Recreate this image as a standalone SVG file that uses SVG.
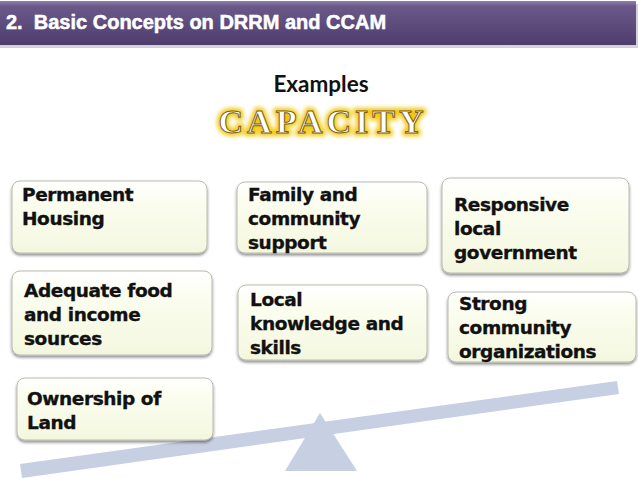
<svg xmlns="http://www.w3.org/2000/svg" width="638" height="478" viewBox="0 0 638 478">
<defs>
<linearGradient id="hdr" x1="0" y1="0" x2="0" y2="1">
<stop offset="0" stop-color="#8f7fae"/>
<stop offset="0.12" stop-color="#6a5889"/>
<stop offset="1" stop-color="#4f3e6c"/>
</linearGradient>
<linearGradient id="box" x1="0" y1="0" x2="0" y2="1">
<stop offset="0" stop-color="#ffffff"/>
<stop offset="0.3" stop-color="#fbfdef"/>
<stop offset="1" stop-color="#f4f7df"/>
</linearGradient>
<filter id="sh" x="-10%" y="-10%" width="120%" height="130%">
<feGaussianBlur in="SourceAlpha" stdDeviation="1.5"/>
<feOffset dx="0" dy="2" result="b"/>
<feComponentTransfer><feFuncA type="linear" slope="0.45"/></feComponentTransfer>
<feMerge><feMergeNode/><feMergeNode in="SourceGraphic"/></feMerge>
</filter>
<filter id="glow" x="-10%" y="-30%" width="120%" height="160%">
<feGaussianBlur stdDeviation="2"/>
</filter>
</defs>
<style>
.bx{fill:url(#box);stroke:#b9bcae;stroke-width:1;filter:url(#sh)}
.t{font-family:"DejaVu Sans",Verdana,sans-serif;font-weight:bold;font-size:18.5px;letter-spacing:-0.4px;fill:#111;stroke:#111;stroke-width:0.35}
.cap{font-family:"Liberation Serif","Times New Roman",serif;font-weight:bold;font-size:34px;letter-spacing:4px}
</style>
<rect width="638" height="478" fill="#ffffff"/>
<g id="header">
<rect x="0" y="4" width="638" height="44" fill="#b9b3c4" opacity="0.6"/>
<rect x="0" y="1" width="636" height="44" fill="url(#hdr)"/>
<text x="6" y="28.5" font-family="Liberation Sans, Arial, sans-serif" font-weight="bold" font-size="20" fill="#ffffff" stroke="#ffffff" stroke-width="0.5" xml:space="preserve">2.  Basic Concepts on DRRM and CCAM</text>
</g>
<g id="title">
<text x="321" y="92" text-anchor="middle" font-family="Lato, 'Open Sans', sans-serif" font-weight="bold" font-size="22.5" fill="#111">Examples</text>
<text x="323" y="133" text-anchor="middle" class="cap" fill="none" stroke="#f2c811" stroke-width="6" filter="url(#glow)">CAPACITY</text>
<text x="323" y="133" text-anchor="middle" class="cap" fill="#ffffff" stroke="#7a5e1a" stroke-width="1">CAPACITY</text>
</g>
<g id="seesaw">
<polygon points="285,471 320,413 357,471" fill="#c7cfe3"/>
<polygon points="20,464 617,381 619,394 22,478" fill="#c7cfe3"/>
</g>
<g id="n1">
<rect class="bx" x="12" y="181" width="195" height="72" rx="8"/>
<text class="t" x="22" y="201">Permanent</text>
<text class="t" x="22" y="225">Housing</text>
</g>
<g id="n2">
<rect class="bx" x="237" y="182" width="190" height="71" rx="8"/>
<text class="t" x="248" y="201">Family and</text>
<text class="t" x="248" y="225">community</text>
<text class="t" x="248" y="249">support</text>
</g>
<g id="n3">
<rect class="bx" x="442" y="178" width="187" height="95" rx="8"/>
<text class="t" x="454" y="211">Responsive</text>
<text class="t" x="454" y="235">local</text>
<text class="t" x="454" y="259">government</text>
</g>
<g id="n4">
<rect class="bx" x="12" y="271" width="200" height="84" rx="8"/>
<text class="t" x="24" y="297">Adequate food</text>
<text class="t" x="24" y="321">and income</text>
<text class="t" x="24" y="345">sources</text>
</g>
<g id="n5">
<rect class="bx" x="238" y="285" width="189" height="75" rx="8"/>
<text class="t" x="250" y="306">Local</text>
<text class="t" x="250" y="330">knowledge and</text>
<text class="t" x="250" y="354">skills</text>
</g>
<g id="n6">
<rect class="bx" x="448" y="292" width="188" height="70" rx="8"/>
<text class="t" x="459" y="310">Strong</text>
<text class="t" x="459" y="334">community</text>
<text class="t" x="459" y="358">organizations</text>
</g>
<g id="n7">
<rect class="bx" x="17" y="378" width="196" height="62" rx="8"/>
<text class="t" x="27" y="405">Ownership of</text>
<text class="t" x="27" y="429">Land</text>
</g>
</svg>
